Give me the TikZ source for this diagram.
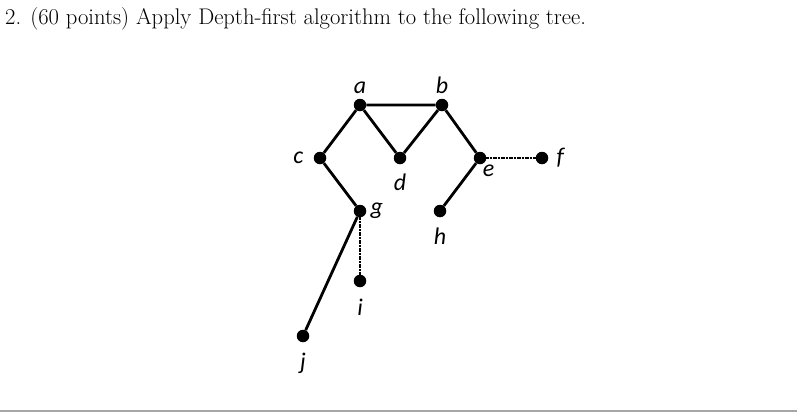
\documentclass[tikz,border=0pt]{standalone}
\usepackage{fontspec}
\newfontfamily\labfont{Carlito}
\usepackage{tikz}
\usetikzlibrary{positioning}

\begin{document}
\begin{tikzpicture}[x=1bp,y=-1bp,node distance=53bp and 40bp,on grid,
  vertex/.style={circle,fill,inner sep=0pt,minimum size=12.5bp},
  every label/.style={font=\labfont\itshape\fontsize{24}{24}\selectfont,inner sep=0pt},
  edge line/.style={line width=2.8bp},
  fuzzy line/.style={line width=2.8bp,dash pattern=on 1.2bp off 0.4bp}]
  \useasboundingbox (0,0) rectangle (797,412);
  \node[anchor=base west,inner sep=0pt,font=\fontsize{22.7}{26}\selectfont] (title) at (5,24)
    {2. (60 points) Apply Depth-first algorithm to the following tree.};
  \node[vertex,label={[label distance=5bp]above:a}] (a) at (360,105) {};
  \node[vertex,label={[label distance=5bp]above:b}] (b) [right=82bp of a] {};
  \node[vertex,label={[label distance=10bp]left:c}] (c) [below left=of a] {};
  \node[vertex,label={[label distance=9bp]below:d}] (d) [below right=of a] {};
  \node[vertex,label={[label distance=1bp]-70:e}] (e) [below right=53bp and 38bp of b] {};
  \node[vertex,label={[label distance=8bp]right:f}] (f) [right=62bp of e] {};
  \node[vertex,label={[label distance=4bp]right:g}] (g) [below right=of c] {};
  \node[vertex,label={[label distance=10bp]below:h}] (h) [below left=of e] {};
  \node[vertex,label={[label distance=11bp]below:i}] (i) [below=70bp of g] {};
  \node[vertex,label={[label distance=10bp]below:j}] (j) [below left=125bp and 57bp of g] {};
  \draw[edge line] (a) -- (b) (a) -- (c) (a) -- (d) (d) -- (b)
    (b) -- (e) (e) -- (h) (c) -- (g) (g) -- (j);
  \draw[fuzzy line] (e) -- (f) (g) -- (i);
  \draw[gray!70,line width=1.5bp] (0,411) -- (797,411);
\end{tikzpicture}
\end{document}
